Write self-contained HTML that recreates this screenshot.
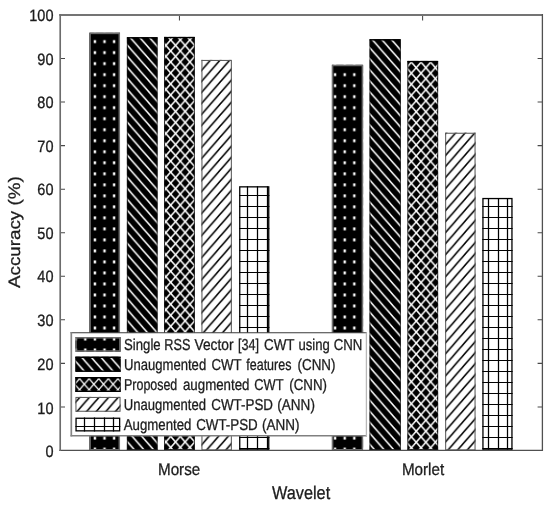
<!DOCTYPE html>
<html lang="en"><head><meta charset="utf-8"><title>Accuracy by wavelet</title>
<style>html,body{margin:0;padding:0;background:#fff;}body{width:550px;height:507px;overflow:hidden;}svg{display:block;}text{font-family:"Liberation Sans",Arial,Helvetica,sans-serif;fill:#1c1c1c;stroke:#1c1c1c;stroke-width:0.3px;text-rendering:geometricPrecision;}</style></head><body>
<svg width="550" height="507" viewBox="0 0 550 507">
<defs><pattern id="p-dots" patternUnits="userSpaceOnUse" x="90.096" y="36.093" width="9.608" height="11.015"><rect width="9.608" height="11.015" fill="#000"/><rect x="3.604" y="4.058" width="2.4" height="2.9" fill="#fff"/></pattern>
<pattern id="p-bs" patternUnits="userSpaceOnUse" x="0" y="9.365" width="9.608" height="11.015"><rect width="9.608" height="11.015" fill="#000"/><path d="M-9.608 -11.015L19.216 22.03M-9.608 -22.03L19.216 11.015M-9.608 0L19.216 33.045" stroke="#fff" stroke-width="1.55" fill="none"/></pattern>
<pattern id="p-fs" patternUnits="userSpaceOnUse" x="0" y="3.995" width="9.608" height="11.015"><rect width="9.608" height="11.015" fill="#fff"/><path d="M-9.608 22.03L19.216 -11.015M-9.608 11.015L19.216 -22.03M-9.608 33.045L19.216 0" stroke="#000" stroke-width="1.6" fill="none"/></pattern>
<pattern id="q-fs" patternUnits="userSpaceOnUse" x="0" y="5.295" width="9.608" height="11.015"><rect width="9.608" height="11.015" fill="#fff"/><path d="M-9.608 22.03L19.216 -11.015M-9.608 11.015L19.216 -22.03M-9.608 33.045L19.216 0" stroke="#000" stroke-width="1.6" fill="none"/></pattern>
<pattern id="p-xb" patternUnits="userSpaceOnUse" x="0" y="9.428" width="9.608" height="11.015"><rect width="9.608" height="11.015" fill="#000"/><path d="M-9.608 -11.015L19.216 22.03M-9.608 -22.03L19.216 11.015M-9.608 0L19.216 33.045" stroke="#fff" stroke-width="1.55" fill="none"/></pattern>
<pattern id="p-xf" patternUnits="userSpaceOnUse" x="0" y="4.282" width="9.608" height="11.015"><path d="M-9.608 22.03L19.216 -11.015M-9.608 11.015L19.216 -22.03M-9.608 33.045L19.216 0" stroke="#fff" stroke-width="1.55" fill="none"/></pattern>
<pattern id="p-grid" patternUnits="userSpaceOnUse" x="89.296" y="35.292" width="9.608" height="11.015"><rect width="9.608" height="11.015" fill="#fff"/><path d="M4.804 0V11.015M0 5.508H9.608" stroke="#0a0a0a" stroke-width="1.3" fill="none"/></pattern>
<pattern id="q-xb" patternUnits="userSpaceOnUse" x="0" y="9.154" width="9.608" height="11.015"><rect width="9.608" height="11.015" fill="#000"/><path d="M-9.608 -11.015L19.216 22.03M-9.608 -22.03L19.216 11.015M-9.608 0L19.216 33.045" stroke="#fff" stroke-width="1.55" fill="none"/></pattern>
<pattern id="q-xf" patternUnits="userSpaceOnUse" x="0" y="5.156" width="9.608" height="11.015"><path d="M-9.608 22.03L19.216 -11.015M-9.608 11.015L19.216 -22.03M-9.608 33.045L19.216 0" stroke="#fff" stroke-width="1.55" fill="none"/></pattern>
<pattern id="q-grid" patternUnits="userSpaceOnUse" x="483.824" y="35.292" width="9.608" height="11.015"><rect width="9.608" height="11.015" fill="#fff"/><path d="M4.804 0V11.015M0 5.508H9.608" stroke="#0a0a0a" stroke-width="1.3" fill="none"/></pattern>
<pattern id="l-dots" patternUnits="userSpaceOnUse" x="90.096" y="333.485" width="9.608" height="11.015"><rect width="9.608" height="11.015" fill="#000"/><rect x="3.604" y="4.058" width="2.4" height="2.9" fill="#fff"/></pattern>
<pattern id="l-bs" patternUnits="userSpaceOnUse" x="0" y="10.255" width="9.608" height="11.015"><rect width="9.608" height="11.015" fill="#000"/><path d="M-9.608 -11.015L19.216 22.03M-9.608 -22.03L19.216 11.015M-9.608 0L19.216 33.045" stroke="#fff" stroke-width="1.55" fill="none"/></pattern>
<pattern id="l-fs" patternUnits="userSpaceOnUse" x="0" y="4.125" width="9.608" height="11.015"><rect width="9.608" height="11.015" fill="#fff"/><path d="M-9.608 22.03L19.216 -11.015M-9.608 11.015L19.216 -22.03M-9.608 33.045L19.216 0" stroke="#000" stroke-width="1.6" fill="none"/></pattern>
<pattern id="l-xb" patternUnits="userSpaceOnUse" x="0" y="1.165" width="9.608" height="11.015"><rect width="9.608" height="11.015" fill="#000"/><path d="M-9.608 -11.015L19.216 22.03M-9.608 -22.03L19.216 11.015M-9.608 0L19.216 33.045" stroke="#fff" stroke-width="1.3" fill="none"/></pattern>
<pattern id="l-xf" patternUnits="userSpaceOnUse" x="0" y="7.200" width="9.608" height="11.015"><path d="M-9.608 22.03L19.216 -11.015M-9.608 11.015L19.216 -22.03M-9.608 33.045L19.216 0" stroke="#fff" stroke-width="1.3" fill="none"/></pattern>
<pattern id="l-grid" patternUnits="userSpaceOnUse" x="89.646" y="420.793" width="9.608" height="11.015"><rect width="9.608" height="11.015" fill="#fff"/><path d="M4.804 0V11.015M0 5.508H9.608" stroke="#0a0a0a" stroke-width="1.3" fill="none"/></pattern></defs>
<rect width="550" height="507" fill="#fff"/>
<path d="M60.2 450.45h4.8M542.4 450.45h-4.8M60.2 406.90h4.8M542.4 406.90h-4.8M60.2 363.36h4.8M542.4 363.36h-4.8M60.2 319.81h4.8M542.4 319.81h-4.8M60.2 276.27h4.8M542.4 276.27h-4.8M60.2 232.72h4.8M542.4 232.72h-4.8M60.2 189.18h4.8M542.4 189.18h-4.8M60.2 145.63h4.8M542.4 145.63h-4.8M60.2 102.09h4.8M542.4 102.09h-4.8M60.2 58.55h4.8M542.4 58.55h-4.8M60.2 15.00h4.8M542.4 15.00h-4.8M179.45 15.0v5.6M179.45 450.45v-5.6M422.6 15.0v5.6M422.6 450.45v-5.6" stroke="#484848" stroke-width="1.05" fill="none"/>
<rect x="89.40" y="32.70" width="30.60" height="417.75" fill="url(#p-dots)"/>
<rect x="90.10" y="33.40" width="29.20" height="416.35" fill="none" stroke="#6e6e6e" stroke-width="1.5"/>
<rect x="126.90" y="37.30" width="30.60" height="413.15" fill="url(#p-bs)"/>
<rect x="127.30" y="37.70" width="29.80" height="412.35" fill="none" stroke="#111" stroke-width="0.8"/>
<path d="M126.90 37.95H157.50M126.90 449.80H157.50" stroke="#000" stroke-width="1.3" fill="none"/>
<rect x="164.10" y="36.90" width="30.60" height="413.55" fill="url(#p-xb)"/>
<rect x="164.10" y="36.90" width="30.60" height="413.55" fill="url(#p-xf)"/>
<rect x="164.50" y="37.30" width="29.80" height="412.75" fill="none" stroke="#111" stroke-width="0.8"/>
<path d="M164.10 37.55H194.70M164.10 449.80H194.70" stroke="#000" stroke-width="1.3" fill="none"/>
<rect x="201.40" y="59.90" width="30.50" height="390.55" fill="url(#p-fs)"/>
<rect x="201.95" y="60.45" width="29.40" height="389.45" fill="none" stroke="#5a5a5a" stroke-width="1.05"/>
<rect x="239.10" y="186.20" width="30.30" height="264.25" fill="#fff"/>
<path d="M247.50 186.20V450.45M257.50 186.20V450.45M267.50 186.20V450.45" stroke="#000" stroke-width="1.25" fill="none"/>
<path d="M239.10 195.50H269.40M239.10 206.50H269.40M239.10 217.50H269.40M239.10 228.50H269.40M239.10 239.50H269.40M239.10 250.50H269.40M239.10 261.50H269.40M239.10 272.50H269.40M239.10 283.50H269.40M239.10 294.50H269.40M239.10 305.50H269.40M239.10 316.50H269.40M239.10 327.50H269.40M239.10 338.50H269.40M239.10 349.50H269.40M239.10 360.50H269.40M239.10 371.50H269.40M239.10 382.50H269.40M239.10 393.50H269.40M239.10 404.50H269.40M239.10 415.50H269.40M239.10 426.50H269.40M239.10 437.50H269.40M239.10 448.50H269.40" stroke="#000" stroke-width="1.15" fill="none"/>
<rect x="239.75" y="186.85" width="29.00" height="262.95" fill="none" stroke="#000" stroke-width="1.3"/>
<rect x="331.90" y="64.80" width="31.20" height="385.65" fill="url(#p-dots)"/>
<rect x="332.60" y="65.50" width="29.80" height="384.25" fill="none" stroke="#6e6e6e" stroke-width="1.5"/>
<rect x="369.60" y="39.30" width="31.10" height="411.15" fill="url(#p-bs)"/>
<rect x="370.00" y="39.70" width="30.30" height="410.35" fill="none" stroke="#111" stroke-width="0.8"/>
<path d="M369.60 39.95H400.70M369.60 449.80H400.70" stroke="#000" stroke-width="1.3" fill="none"/>
<rect x="407.50" y="60.90" width="30.60" height="389.55" fill="url(#q-xb)"/>
<rect x="407.50" y="60.90" width="30.60" height="389.55" fill="url(#q-xf)"/>
<rect x="407.90" y="61.30" width="29.80" height="388.75" fill="none" stroke="#111" stroke-width="0.8"/>
<path d="M407.50 61.55H438.10M407.50 449.80H438.10" stroke="#000" stroke-width="1.3" fill="none"/>
<rect x="445.10" y="132.70" width="30.50" height="317.75" fill="url(#q-fs)"/>
<rect x="445.65" y="133.25" width="29.40" height="316.65" fill="none" stroke="#5a5a5a" stroke-width="1.05"/>
<rect x="482.30" y="197.90" width="30.30" height="252.55" fill="#fff"/>
<path d="M488.50 197.90V450.45M498.50 197.90V450.45M507.50 197.90V450.45" stroke="#000" stroke-width="1.25" fill="none"/>
<path d="M482.30 206.50H512.60M482.30 217.50H512.60M482.30 228.50H512.60M482.30 239.50H512.60M482.30 250.50H512.60M482.30 261.50H512.60M482.30 272.50H512.60M482.30 283.50H512.60M482.30 294.50H512.60M482.30 305.50H512.60M482.30 316.50H512.60M482.30 327.50H512.60M482.30 338.50H512.60M482.30 349.50H512.60M482.30 360.50H512.60M482.30 371.50H512.60M482.30 382.50H512.60M482.30 393.50H512.60M482.30 404.50H512.60M482.30 415.50H512.60M482.30 426.50H512.60M482.30 437.50H512.60M482.30 448.50H512.60" stroke="#000" stroke-width="1.15" fill="none"/>
<rect x="482.95" y="198.55" width="29.00" height="251.25" fill="none" stroke="#000" stroke-width="1.3"/>
<path d="M59.300000000000004 15.0H543.0" stroke="#747474" stroke-width="1.9" fill="none"/>
<path d="M59.300000000000004 450.45H543.0" stroke="#505050" stroke-width="1.3" fill="none"/>
<path d="M60.2 14.1V451.05" stroke="#6c6c6c" stroke-width="1.65" fill="none"/>
<path d="M542.4 14.1V451.05" stroke="#505050" stroke-width="1.3" fill="none"/>
<text transform="translate(53.5 456.95) scale(0.885 1)" font-size="16.4" text-anchor="end">0</text>
<text transform="translate(53.5 413.50) scale(0.885 1)" font-size="16.4" text-anchor="end">10</text>
<text transform="translate(53.5 369.56) scale(0.885 1)" font-size="16.4" text-anchor="end">20</text>
<text transform="translate(53.5 326.01) scale(0.885 1)" font-size="16.4" text-anchor="end">30</text>
<text transform="translate(53.5 282.47) scale(0.885 1)" font-size="16.4" text-anchor="end">40</text>
<text transform="translate(53.5 238.92) scale(0.885 1)" font-size="16.4" text-anchor="end">50</text>
<text transform="translate(53.5 195.38) scale(0.885 1)" font-size="16.4" text-anchor="end">60</text>
<text transform="translate(53.5 151.83) scale(0.885 1)" font-size="16.4" text-anchor="end">70</text>
<text transform="translate(53.5 108.29) scale(0.885 1)" font-size="16.4" text-anchor="end">80</text>
<text transform="translate(53.5 64.75) scale(0.885 1)" font-size="16.4" text-anchor="end">90</text>
<text transform="translate(53.5 20.50) scale(0.885 1)" font-size="16.4" text-anchor="end">100</text>
<text transform="translate(179.1 474.6) scale(0.90 1)" font-size="16.9" text-anchor="middle">Morse</text>
<text transform="translate(423.0 474.6) scale(0.90 1)" font-size="16.9" text-anchor="middle">Morlet</text>
<text transform="translate(301.1 499.2) scale(0.885 1)" font-size="18.4" text-anchor="middle">Wavelet</text>
<text transform="translate(20.1 232.2) rotate(-90) scale(1.01 0.895)" font-size="18.6" text-anchor="middle">Accuracy (%)</text>
<rect x="71.3" y="332.7" width="295.1" height="103" fill="#fff"/>
<path d="M70.5 332.7H367" stroke="#3a3a3a" stroke-width="1.1" fill="none"/>
<path d="M70.5 435.7H367" stroke="#808080" stroke-width="1.6" fill="none"/>
<path d="M71.3 332.2V436.4" stroke="#858585" stroke-width="1.7" fill="none"/>
<path d="M366.4 332.2V436.4" stroke="#b8b8b8" stroke-width="1.3" fill="none"/>
<rect x="75.30" y="337.10" width="45.30" height="14.60" fill="url(#l-dots)"/>
<rect x="76.00" y="337.80" width="43.90" height="13.20" fill="none" stroke="#6e6e6e" stroke-width="1.5"/>
<rect x="75.40" y="356.70" width="45.20" height="15.00" fill="url(#l-bs)"/>
<rect x="75.80" y="357.10" width="44.40" height="14.20" fill="none" stroke="#111" stroke-width="0.8"/>
<path d="M75.40 357.35H120.60M75.40 371.05H120.60" stroke="#000" stroke-width="1.3" fill="none"/>
<rect x="75.40" y="377.10" width="45.20" height="14.80" fill="url(#l-xb)"/>
<rect x="75.40" y="377.10" width="45.20" height="14.80" fill="url(#l-xf)"/>
<rect x="75.80" y="377.50" width="44.40" height="14.00" fill="none" stroke="#111" stroke-width="0.8"/>
<path d="M75.40 377.85H120.60M75.40 391.15H120.60" stroke="#000" stroke-width="1.5" fill="none"/>
<rect x="75.40" y="396.90" width="45.20" height="14.90" fill="url(#l-fs)"/>
<rect x="75.95" y="397.45" width="44.10" height="13.80" fill="none" stroke="#5a5a5a" stroke-width="1.05"/>
<rect x="75.40" y="417.60" width="44.90" height="13.90" fill="#fff"/>
<path d="M84.50 417.60V431.50M94.50 417.60V431.50M104.50 417.60V431.50M113.50 417.60V431.50" stroke="#000" stroke-width="1.25" fill="none"/>
<path d="M75.40 426.50H120.30" stroke="#000" stroke-width="1.15" fill="none"/>
<rect x="76.05" y="418.25" width="43.60" height="12.60" fill="none" stroke="#000" stroke-width="1.3"/>
<text y="350.2" font-size="15.8"><tspan x="124.06" textLength="36.58" lengthAdjust="spacingAndGlyphs">Single</tspan> <tspan x="164.33" textLength="26.10" lengthAdjust="spacingAndGlyphs">RSS</tspan> <tspan x="194.48" textLength="39.08" lengthAdjust="spacingAndGlyphs">Vector</tspan> <tspan x="238.07" textLength="21.00" lengthAdjust="spacingAndGlyphs">[34]</tspan> <tspan x="263.98" textLength="30.36" lengthAdjust="spacingAndGlyphs">CWT</tspan> <tspan x="298.40" textLength="31.31" lengthAdjust="spacingAndGlyphs">using</tspan> <tspan x="333.79" textLength="28.64" lengthAdjust="spacingAndGlyphs">CNN</tspan></text>
<text y="370.3" font-size="15.8"><tspan x="123.97" textLength="82.20" lengthAdjust="spacingAndGlyphs">Unaugmented</tspan> <tspan x="211.39" textLength="29.84" lengthAdjust="spacingAndGlyphs">CWT</tspan> <tspan x="246.26" textLength="45.17" lengthAdjust="spacingAndGlyphs">features</tspan> <tspan x="297.55" textLength="37.94" lengthAdjust="spacingAndGlyphs">(CNN)</tspan></text>
<text y="390.2" font-size="15.8"><tspan x="124.06" textLength="53.21" lengthAdjust="spacingAndGlyphs">Proposed</tspan> <tspan x="182.95" textLength="66.55" lengthAdjust="spacingAndGlyphs">augmented</tspan> <tspan x="254.31" textLength="29.02" lengthAdjust="spacingAndGlyphs">CWT</tspan> <tspan x="289.25" textLength="37.73" lengthAdjust="spacingAndGlyphs">(CNN)</tspan></text>
<text y="410.1" font-size="15.8"><tspan x="123.77" textLength="82.30" lengthAdjust="spacingAndGlyphs">Unaugmented</tspan> <tspan x="211.28" textLength="61.78" lengthAdjust="spacingAndGlyphs">CWT-PSD</tspan> <tspan x="277.34" textLength="37.55" lengthAdjust="spacingAndGlyphs">(ANN)</tspan></text>
<text y="430.2" font-size="15.8"><tspan x="123.78" textLength="67.72" lengthAdjust="spacingAndGlyphs">Augmented</tspan> <tspan x="196.18" textLength="61.58" lengthAdjust="spacingAndGlyphs">CWT-PSD</tspan> <tspan x="262.04" textLength="37.45" lengthAdjust="spacingAndGlyphs">(ANN)</tspan></text>
</svg></body></html>
